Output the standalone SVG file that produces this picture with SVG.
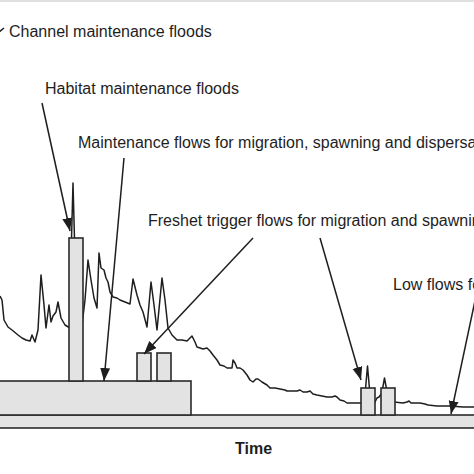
<svg xmlns="http://www.w3.org/2000/svg" width="474" height="474" viewBox="0 0 474 474">
<style>
.lbl{font-family:"Liberation Sans",Arial,sans-serif;font-size:16px;fill:#1e1e1e}
.bold{font-weight:bold}
.blk{fill:#e3e3e3;stroke:#2a2a2a;stroke-width:1.6}
.hyd{fill:none;stroke:#1e1e1e;stroke-width:1.5;stroke-linejoin:round}
.arr{fill:none;stroke:#1e1e1e;stroke-width:1.5}
</style>
<defs>
<marker id="ah" markerUnits="userSpaceOnUse" markerWidth="14" markerHeight="12" refX="13" refY="5" orient="auto">
<path d="M0,0 L13,5 L0,10 Z" fill="#1e1e1e"/>
</marker>
</defs>
<rect x="0" y="0" width="474" height="474" fill="#ffffff"/>
<rect x="0" y="0" width="474" height="2" fill="#e0e0e0"/>

<g id="hydrograph">
<polyline class="hyd" points="0,296 2,300 4,320 8,327 12,330 18,335 22,338 26,340 30,341 32,335 35,342 38,330 41,275 44,305 46,328 49,305 51,322 53,316 56,312 58,302 61,318 65,325 70,328"/>
<polyline class="hyd" points="82,325 85,300 88,260 91,280 94,298 97,308 99,253 101,268 104,270 106,278 108,282 110,292 113,297 117,298 120,300 125,302 130,304 133,279 137,295 140,305 143,312 147,327 151,282 154,305 157,330 162,278 165,300 168,328 172,335 177,340 182,340 187,341 190,338 192,336 195,342 197,347 203,349 207,348 210,351 213,355 217,360 220,365 224,366 227,368 232,368 233,360 235,363 237,368 240,368 243,370 247,375 250,380 253,382 256,379 258,379 262,382 267,385 270,388 275,388 280,389 285,390 287,391 292,391 297,391 300,390 303,392 307,392 310,391 313,394 317,395 322,396 327,397 332,397 335,396 337,397 340,400 344,401 347,403 362,403"/>
<polyline class="hyd" points="374,404 377,398 379,397 382,393"/>
<polyline class="hyd" points="394,402 403,403 407,402 409,401 411,403 420,403 425,404 428,405 437,406 450,406 463,407 474,407"/>
<polyline class="hyd" points="71.5,239 73,183 74.5,239"/>
<polyline class="hyd" points="365.5,389 367.5,366 369.5,389"/>
<polyline class="hyd" points="382.5,389 384.5,378 386.5,389"/>
</g>

<g id="blocks">
<rect id="base-flow" class="blk" x="-2" y="415" width="480" height="13"/>
<rect id="maintenance-block" class="blk" x="-2" y="381" width="193" height="34"/>
<rect id="habitat-flood" class="blk" x="69" y="238" width="14" height="143"/>
<rect id="freshet-1" class="blk" x="137" y="353" width="14" height="28"/>
<rect id="freshet-2" class="blk" x="157" y="353" width="14" height="28"/>
<rect id="freshet-3" class="blk" x="361" y="388" width="14" height="27"/>
<rect id="freshet-4" class="blk" x="381" y="388" width="14" height="27"/>
</g>

<g id="connectors">
<line class="arr" x1="4" y1="28" x2="-2" y2="33"/>
<line class="arr" x1="42" y1="103" x2="70" y2="231" marker-end="url(#ah)"/>
<line class="arr" x1="124" y1="158" x2="104" y2="381" marker-end="url(#ah)"/>
<line class="arr" x1="253" y1="238" x2="144" y2="354" marker-end="url(#ah)"/>
<line class="arr" x1="320" y1="238" x2="361" y2="380" marker-end="url(#ah)"/>
<line class="arr" x1="476" y1="296" x2="451" y2="414" marker-end="url(#ah)"/>
</g>

<g id="label-channel"><text class="lbl" x="9" y="37">Channel maintenance floods</text></g>
<g id="label-habitat"><text class="lbl" x="45" y="94">Habitat maintenance floods</text></g>
<g id="label-maintenance"><text class="lbl" x="78" y="148">Maintenance flows for migration, spawning and dispersal</text></g>
<g id="label-freshet"><text class="lbl" x="148" y="226">Freshet trigger flows for migration and spawning</text></g>
<g id="label-low"><text class="lbl" x="393" y="290">Low flows for</text></g>
<g id="axis-time"><text class="lbl bold" x="235" y="454">Time</text></g>
</svg>
